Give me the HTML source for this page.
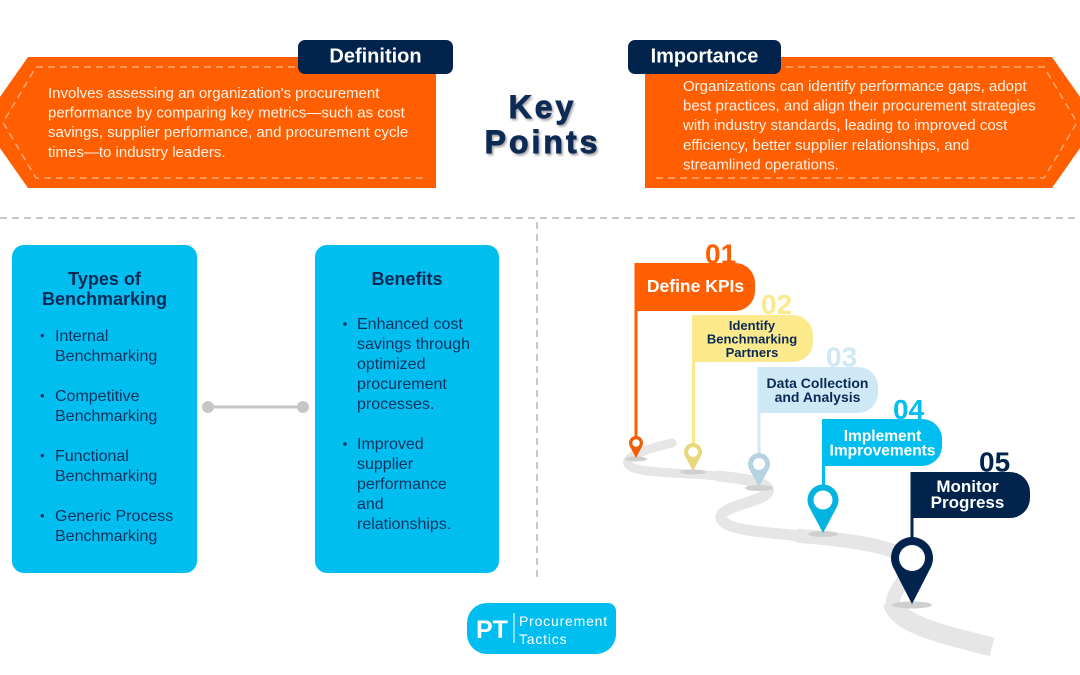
<!DOCTYPE html>
<html><head><meta charset="utf-8"><style>html,body{margin:0;padding:0;background:#fff}svg{display:block}</style></head>
<body>
<svg width="1080" height="675" viewBox="0 0 1080 675" xmlns="http://www.w3.org/2000/svg" font-family="'Liberation Sans', Arial, sans-serif">
<defs>
<filter id="sh" x="-10%" y="-20%" width="130%" height="150%"><feDropShadow dx="1.5" dy="2" stdDeviation="1" flood-color="#000" flood-opacity="0.35"/></filter>
</defs>
<rect width="1080" height="675" fill="#fff"/>

<!-- Left orange -->
<polygon points="28,57 436,57 436,188 28,188 -18,122.5" fill="#ff5f00"/>
<polyline points="427,67 36,67 3,122.5 36,178 427,178" fill="none" stroke="#ffa777" stroke-width="1.5" stroke-dasharray="7 5"/>
<rect x="298" y="40" width="155" height="34" rx="7" fill="#02234c"/>
<text x="375.5" y="62.5" font-size="20" font-weight="bold" fill="#fff" text-anchor="middle">Definition</text>
<g font-size="15" fill="#fff1e8">
<text x="48" y="98">Involves assessing an organization's procurement</text>
<text x="48" y="117.6">performance by comparing key metrics—such as cost</text>
<text x="48" y="137.2">savings, supplier performance, and procurement cycle</text>
<text x="48" y="156.8">times—to industry leaders.</text>
</g>

<!-- Right orange -->
<polygon points="645,57 1052,57 1098,122.5 1052,188 645,188" fill="#ff5f00"/>
<polyline points="654,67 1044,67 1077,122.5 1044,178 654,178" fill="none" stroke="#ffa777" stroke-width="1.5" stroke-dasharray="7 5"/>
<rect x="628" y="40" width="153" height="34" rx="7" fill="#02234c"/>
<text x="704.5" y="62.5" font-size="20" font-weight="bold" fill="#fff" text-anchor="middle">Importance</text>
<g font-size="15" fill="#fff1e8">
<text x="683" y="91">Organizations can identify performance gaps, adopt</text>
<text x="683" y="110.6">best practices, and align their procurement strategies</text>
<text x="683" y="130.2">with industry standards, leading to improved cost</text>
<text x="683" y="149.8">efficiency, better supplier relationships, and</text>
<text x="683" y="169.4">streamlined operations.</text>
</g>

<!-- Key Points -->
<g filter="url(#sh)" font-size="32" font-weight="bold" fill="#0b2a55" stroke="#0b2a55" stroke-width="0.9" text-anchor="middle" letter-spacing="3">
<text x="542.5" y="118">Key</text>
<text x="542.5" y="153">Points</text>
</g>

<!-- separators -->
<line x1="0" y1="218" x2="1080" y2="218" stroke="#c8c8c8" stroke-width="2" stroke-dasharray="7 5"/>
<line x1="537" y1="222" x2="537" y2="578" stroke="#c8c8c8" stroke-width="2" stroke-dasharray="7 5"/>

<!-- Blue boxes -->
<rect x="12" y="245" width="185" height="328" rx="12" fill="#00bef0"/>
<rect x="315" y="245" width="184" height="328" rx="12" fill="#00bef0"/>
<g font-size="18" font-weight="bold" fill="#0a2a55" text-anchor="middle">
<text x="104.5" y="285">Types of</text>
<text x="104.5" y="305">Benchmarking</text>
<text x="407" y="285">Benefits</text>
</g>
<g fill="#0e325f">
<circle cx="42.3" cy="335.7" r="1.7"/><circle cx="42.3" cy="395.7" r="1.7"/><circle cx="42.3" cy="455.7" r="1.7"/><circle cx="42.3" cy="515.7" r="1.7"/>
<circle cx="345" cy="324" r="1.7"/><circle cx="345" cy="444" r="1.7"/>
</g>
<g font-size="16" fill="#0e325f">
<text x="55" y="341">Internal</text>
<text x="55" y="361">Benchmarking</text>
<text x="55" y="401">Competitive</text>
<text x="55" y="421">Benchmarking</text>
<text x="55" y="461">Functional</text>
<text x="55" y="481">Benchmarking</text>
<text x="55" y="521">Generic Process</text>
<text x="55" y="541">Benchmarking</text>
<text x="357" y="329">Enhanced cost</text>
<text x="357" y="349">savings through</text>
<text x="357" y="369">optimized</text>
<text x="357" y="389">procurement</text>
<text x="357" y="409">processes.</text>
<text x="357" y="449">Improved</text>
<text x="357" y="469">supplier</text>
<text x="357" y="489">performance</text>
<text x="357" y="509">and</text>
<text x="357" y="529">relationships.</text>
</g>

<!-- connector -->
<line x1="208" y1="407" x2="303" y2="407" stroke="#c6c6c6" stroke-width="3"/>
<circle cx="208" cy="407" r="6" fill="#c6c6c6"/>
<circle cx="303" cy="407" r="6" fill="#c6c6c6"/>

<!-- Road -->
<g fill="none" stroke="#e6e6e6" stroke-linecap="round" stroke-linejoin="round">
<path d="M672,443 C655,447 624,455 628,464 C633,473 670,472 720,476" stroke-width="9"/>
<path d="M718,476 C760,480 776,487 765,495 C755,503 714,508 722,520 C728,530 760,532 802,536" stroke-width="11"/>
<path d="M800,536 C850,540 896,546 906,560 C916,575 890,590 893,605" stroke-width="14"/>
<path d="M893,603 C896,625 950,636 992,647" stroke-width="19" stroke-linecap="butt"/>
</g>

<!-- pin shadows -->
<g fill="#cfcfcf">
<ellipse cx="636" cy="459" rx="11" ry="2.5"/>
<ellipse cx="693" cy="472" rx="13" ry="2.5"/>
<ellipse cx="759" cy="488" rx="14" ry="3"/>
<ellipse cx="823" cy="534" rx="15" ry="3"/>
<ellipse cx="912" cy="605" rx="20" ry="3.5"/>
</g>

<!-- poles -->
<rect x="634.5" y="300" width="3" height="137" fill="#ff5f00"/>
<rect x="692" y="350" width="3" height="94" fill="#fce98b"/>
<rect x="757.5" y="400" width="3" height="55" fill="#cfe8f6"/>
<rect x="822" y="455" width="3" height="32" fill="#00bef0"/>
<rect x="910.5" y="505" width="3" height="34" fill="#02234c"/>

<!-- pins -->
<path d="M636,458 L629.94,446.5 A7 7 0 1 1 642.06,446.5 Z" fill="#f25c05"/>
<circle cx="636" cy="443" r="3.8" fill="#fff"/>
<path d="M693,471 L685.07,456.3 A9 9 0 1 1 700.93,456.3 Z" fill="#ead77c"/>
<circle cx="693" cy="452" r="5" fill="#fff"/>
<path d="M759,487 L749.34,469.3 A11 11 0 1 1 768.66,469.3 Z" fill="#b7d3e2"/>
<circle cx="759" cy="464" r="6" fill="#fff"/>
<path d="M823,533 L809.32,507.3 A15.5 15.5 0 1 1 836.68,507.3 Z" fill="#03b3e0"/>
<circle cx="823" cy="500" r="9.5" fill="#fff"/>
<path d="M912,604 L893.32,567.6 A21 21 0 1 1 930.68,567.6 Z" fill="#02234c"/>
<circle cx="912" cy="558" r="13" fill="#fff"/>

<!-- flags -->
<path d="M634.5,263 H735 A20 20 0 0 1 755,283 V291 A20 20 0 0 1 735,311 H634.5 Z" fill="#ff5f00"/>
<path d="M692,315 H793 A20 20 0 0 1 813,335 V342 A20 20 0 0 1 793,362 H692 Z" fill="#fce98b"/>
<path d="M757.5,367 H858 A20 20 0 0 1 878,387 V393 A20 20 0 0 1 858,413 H757.5 Z" fill="#cfe8f6"/>
<path d="M822,419 H922 A20 20 0 0 1 942,439 V446 A20 20 0 0 1 922,466 H822 Z" fill="#00bef0"/>
<path d="M910.5,472 H1010 A20 20 0 0 1 1030,492 V498 A20 20 0 0 1 1010,518 H910.5 Z" fill="#02234c"/>

<!-- numbers -->
<g font-size="28" font-weight="bold">
<text x="705" y="263.5" fill="#ff5f00">01</text>
<text x="761" y="314" fill="#fce98b">02</text>
<text x="826" y="366.5" fill="#cfe8f6">03</text>
<text x="893" y="419" fill="#00bef0">04</text>
<text x="979" y="471.5" fill="#02234c">05</text>
</g>

<!-- flag labels -->
<text x="695.5" y="292" font-size="17.5" font-weight="bold" fill="#fff" text-anchor="middle">Define KPIs</text>
<g font-size="13" font-weight="bold" fill="#0a2a55" text-anchor="middle">
<text x="752" y="330">Identify</text>
<text x="752" y="343.5">Benchmarking</text>
<text x="752" y="357">Partners</text>
</g>
<g font-size="14" font-weight="bold" fill="#0a2a55" text-anchor="middle">
<text x="817.5" y="388">Data Collection</text>
<text x="817.5" y="402">and Analysis</text>
</g>
<g font-size="15.5" font-weight="bold" fill="#fff" text-anchor="middle">
<text x="882.5" y="441">Implement</text>
<text x="882.5" y="455.5">Improvements</text>
</g>
<g font-size="17" font-weight="bold" fill="#fff" text-anchor="middle">
<text x="967.5" y="492">Monitor</text>
<text x="967.5" y="508">Progress</text>
</g>

<!-- Logo -->
<path d="M487,603 H608 A8 8 0 0 1 616,611 V634 A20 20 0 0 1 596,654 H487 A20 20 0 0 1 467,634 V623 A20 20 0 0 1 487,603 Z" fill="#00bef0"/>
<text x="476" y="638" font-size="25" font-weight="bold" fill="#fff">PT</text>
<line x1="514" y1="613" x2="514" y2="643" stroke="#fff" stroke-width="1"/>
<text x="519" y="626" font-size="14" letter-spacing="0.8" fill="#fff">Procurement</text>
<text x="519" y="644" font-size="14" letter-spacing="0.8" fill="#fff">Tactics</text>
</svg>
</body></html>
